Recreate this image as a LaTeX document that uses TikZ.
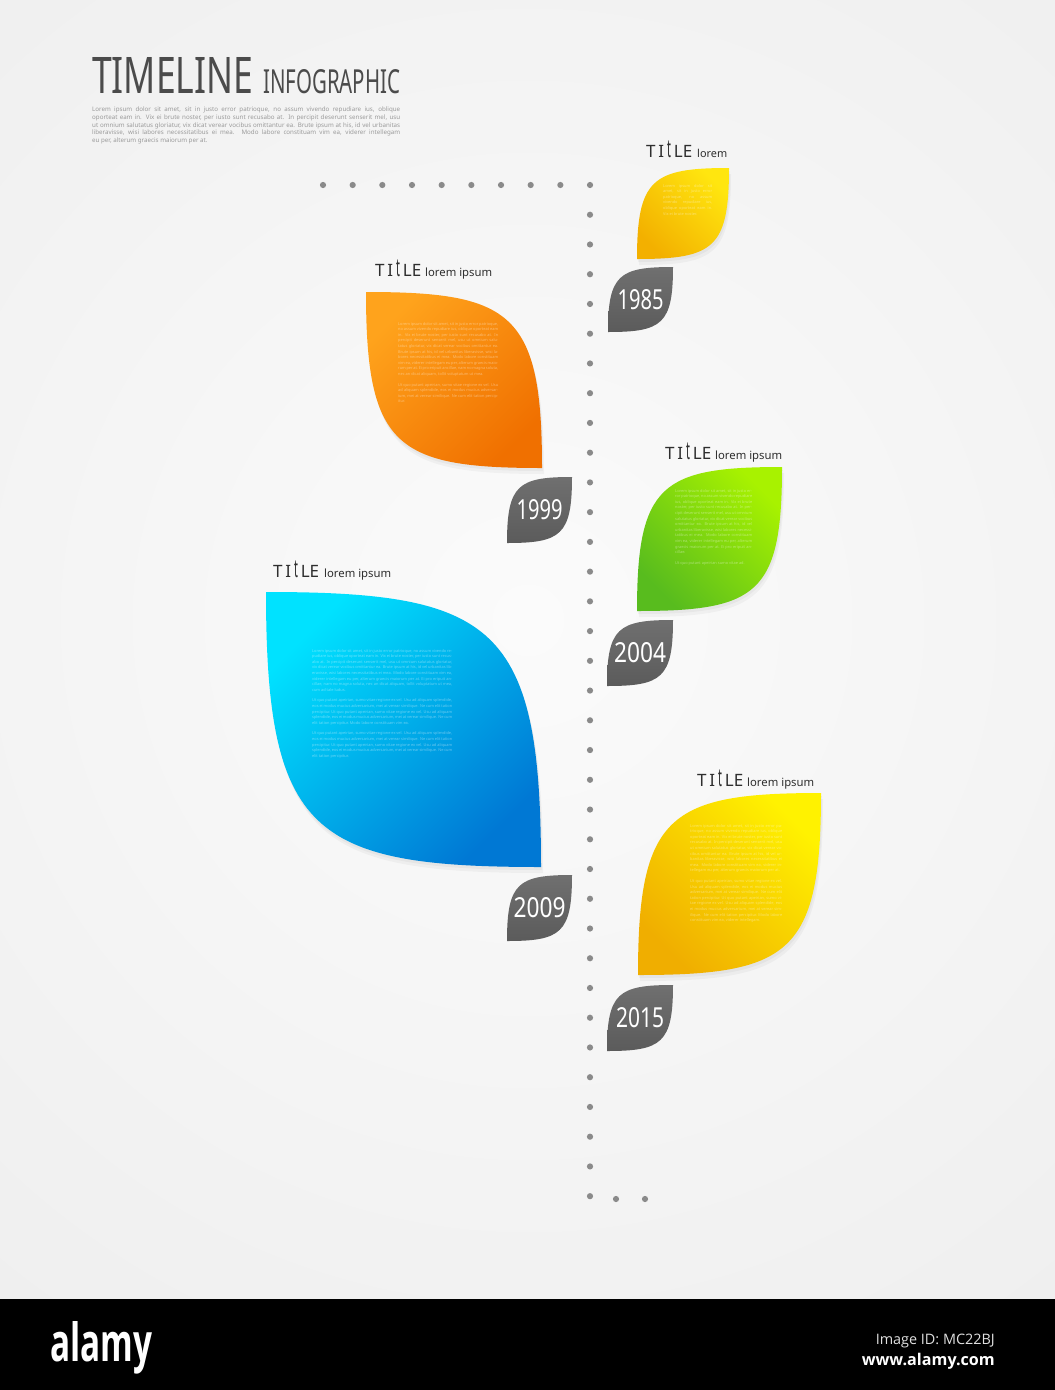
\documentclass[tikz,border=0pt]{standalone}
\usepackage{fontspec}
\usepackage{graphicx}
\setmainfont{Noto Sans}
\newfontfamily\barfont{Open Sans}
\setlength\parindent{0pt}
\definecolor{bgin}{HTML}{FBFBFB}
\definecolor{bgout}{HTML}{E2E2E2}
\definecolor{dotgray}{HTML}{8A8A8A}
\definecolor{headc}{HTML}{4B4B4B}
\definecolor{parac}{HTML}{9A9A9A}
\definecolor{ttlc}{HTML}{2E2E2E}
\definecolor{tagc}{HTML}{636363}
\definecolor{yelAt}{HTML}{FFE60F}
\definecolor{yelAb}{HTML}{F3B000}
\definecolor{oraT}{HTML}{FFA31C}
\definecolor{oraB}{HTML}{F07000}
\definecolor{greT}{HTML}{A8F200}
\definecolor{greB}{HTML}{58BC1E}
\definecolor{bluT}{HTML}{00E2FF}
\definecolor{bluB}{HTML}{0078D4}
\definecolor{yelBt}{HTML}{FFF200}
\definecolor{yelBb}{HTML}{F0AE00}
% leaf with sharp top-right and bottom-left corners
\newcommand\leafA[5][]{\path[#1] (#2,#5) .. controls (#2,{#5-0.88*(#5-#3)}) and ({#2+0.17*(#4-#2)},#3) .. (#4,#3) .. controls (#4,{#3+0.88*(#5-#3)}) and ({#4-0.17*(#4-#2)},#5) .. cycle;}
% leaf with sharp top-left and bottom-right corners
\newcommand\leafB[5][]{\path[#1] (#4,#5) .. controls (#4,{#5-0.88*(#5-#3)}) and ({#4-0.17*(#4-#2)},#3) .. (#2,#3) .. controls (#2,{#3+0.88*(#5-#3)}) and ({#2+0.17*(#4-#2)},#5) .. cycle;}
\newcommand\txtP{Lorem ipsum dolor sit amet, sit in justo error patrioque, no assum vivendo repudiare ius, oblique oporteat eam in. Vix ei brute noster, per iusto sunt recusabo at. In percipit deserunt senserit mel, usu ut omnium salutatus gloriatur, vix dicat verear vocibus omittantur ea. Brute ipsum at his, id vel urbanitas liberavisse, wisi labores necessitatibus ei mea. Modo labore constituam vim ea, viderer intellegam eu per, alterum graecis maiorum per at.}
\newcommand\txtQ{Ut quo putant apeirian, sumo vitae regione ex vel. Usu ad aliquam splendide, eos ei modus mucius adversarium, mei at verear similique. Ne cum elit tation percipitur.}
\newcommand\ttlword{T\,I\,\resizebox{4.6pt}{19.5pt}{t}\,LE}
\begin{document}
\begin{tikzpicture}[x=1pt,y=-1pt,
  lt/.style={text=white, text opacity=0.4, font=\fontsize{3.9}{5.6}\selectfont, align=justify, inner sep=0pt, anchor=north west},
  yr/.style={text=white, inner sep=0pt},
  ttl/.style={anchor=base west, inner sep=0pt, text=ttlc, font=\fontsize{20}{20}\selectfont},
  shadowleaf/.style={fill=black, opacity=0.035},
  tagleaf/.style={top color=tagc!92!white, bottom color=tagc!92!black}
  ]
\useasboundingbox (0,0) rectangle (1055,1390);
% background
\begin{scope}
\clip (0,0) rectangle (1055,1300);
\shade[inner color=bgin, outer color=bgout] (528,620) circle (1800pt);
\end{scope}
\fill[black] (0,1299) rectangle (1055,1390);

% heading
\node[anchor=base west, inner sep=0pt, text=headc] (head) at (92,93) {\resizebox{161pt}{36pt}{TIMELINE}};
\node[anchor=base west, inner sep=0pt, text=headc] (head2) at (263,93) {\resizebox{137pt}{24pt}{INFOGRAPHIC}};
\node[anchor=north west, inner sep=0pt, text=parac, align=left, font=\fontsize{6.2}{7.6}\selectfont] (intro) at (92,107) {%
\makebox[308pt][s]{Lorem ipsum dolor sit amet, sit in justo error patrioque, no assum vivendo repudiare ius, oblique}\\
\makebox[308pt][s]{oporteat eam in. Vix ei brute noster, per iusto sunt recusabo at. In percipit deserunt senserit mel, usu}\\
\makebox[308pt][s]{ut omnium salutatus gloriatur, vix dicat verear vocibus omittantur ea. Brute ipsum at his, id vel urbanitas}\\
\makebox[308pt][s]{liberavisse, wisi labores necessitatibus ei mea. Modo labore constituam vim ea, viderer intellegam}\\
eu per, alterum graecis maiorum per at.};

% dotted timeline
\foreach \i in {0,...,9} \fill[dotgray] ({323+\i*29.67},185) circle (3.1pt);
\foreach \i in {1,...,34} \fill[dotgray] (590,{185+\i*29.74}) circle (3.1pt);
\fill[dotgray] (616,1199) circle (3.1pt);
\fill[dotgray] (645,1199) circle (3.1pt);

% 1985
\leafA[shadowleaf, shift={(1,3)}]{637}{168}{729}{259}
\leafA[shadowleaf, shift={(2,6)}]{637}{168}{729}{259}
\leafA[top color=yelAt, bottom color=yelAb, shading angle=-45]{637}{168}{729}{259}
\leafA[tagleaf]{608}{267}{673}{332}
\node[lt, text width=49pt] (t1985) at (663,184) {Lorem ipsum dolor sit amet, sit in justo error patrioque, no assum vivendo repudiare ius, oblique oporteat eam in. Vix ei brute noster.};
\node[yr] (y1985) at (640.5,300) {\resizebox{46pt}{20pt}{1985}};
\node[ttl] (h1985) at (646,157) {\resizebox{46pt}{!}{\ttlword}};
\node[ttl] (l1985) at (697,157) {\resizebox{30pt}{!}{lorem}};

% 1999
\leafB[shadowleaf, shift={(1,3)}]{366}{292}{542}{468}
\leafB[shadowleaf, shift={(2,6)}]{366}{292}{542}{468}
\leafB[top color=oraT, bottom color=oraB, shading angle=45]{366}{292}{542}{468}
\leafA[tagleaf]{507}{477}{572}{543}
\node[lt, text width=100pt] (t1999) at (398,322) {\txtP\ Ei pro eripuit ancillae, nam no magna soluta, nec an dicat aliquam, tollit voluptatum ut mea.\par\vspace{5pt}\txtQ};
\node[yr] (y1999) at (539.5,510) {\resizebox{46pt}{20pt}{1999}};
\node[ttl] (h1999) at (375,276) {\resizebox{46pt}{!}{\ttlword}};
\node[ttl] (l1999) at (425,276) {\resizebox{67pt}{!}{lorem ipsum}};

% 2004
\leafA[shadowleaf, shift={(1,3)}]{637}{467}{782}{611}
\leafA[shadowleaf, shift={(2,6)}]{637}{467}{782}{611}
\leafA[top color=greT, bottom color=greB, shading angle=-45]{637}{467}{782}{611}
\leafA[tagleaf]{607}{620}{673}{686}
\node[lt, text width=77pt] (t2004) at (675,489) {\txtP\ Ei pro eripuit ancillae.\par\vspace{5pt}Ut quo putant apeirian sumo vitae ad.};
\node[yr] (y2004) at (640,653) {\resizebox{52pt}{20pt}{2004}};
\node[ttl] (h2004) at (665,459) {\resizebox{46pt}{!}{\ttlword}};
\node[ttl] (l2004) at (715,459) {\resizebox{67pt}{!}{lorem ipsum}};

% 2009
\leafB[shadowleaf, shift={(1,3)}]{266}{592}{541}{867}
\leafB[shadowleaf, shift={(2,6)}]{266}{592}{541}{867}
\leafB[top color=bluT, bottom color=bluB, shading angle=45]{266}{592}{541}{867}
\leafA[tagleaf]{507}{875}{572}{941}
\node[lt, text width=140pt] (t2009) at (312,649) {\txtP\ Ei pro eripuit ancillae, nam no magna soluta, nec an dicat aliquam, tollit voluptatum ut mea, cum ad tale ludus.\par\vspace{5pt}\txtQ\ \txtQ\ Modo labore constituam vim ea.\par\vspace{5pt}\txtQ\ \txtQ};
\node[yr] (y2009) at (539.5,908) {\resizebox{52pt}{20pt}{2009}};
\node[ttl] (h2009) at (273,577) {\resizebox{46pt}{!}{\ttlword}};
\node[ttl] (l2009) at (324,577) {\resizebox{67pt}{!}{lorem ipsum}};

% 2015
\leafA[shadowleaf, shift={(1,3)}]{638}{793}{821}{975}
\leafA[shadowleaf, shift={(2,6)}]{638}{793}{821}{975}
\leafA[top color=yelBt, bottom color=yelBb, shading angle=-45]{638}{793}{821}{975}
\leafA[tagleaf]{607}{985}{673}{1051}
\node[lt, text width=92pt] (t2015) at (690,824) {\txtP\par\vspace{5pt}\txtQ\ \txtQ\ Modo labore constituam vim ea, viderer intellegam.};
\node[yr] (y2015) at (640,1018) {\resizebox{48pt}{20pt}{2015}};
\node[ttl] (h2015) at (697,786) {\resizebox{46pt}{!}{\ttlword}};
\node[ttl] (l2015) at (747,786) {\resizebox{67pt}{!}{lorem ipsum}};

% bottom bar
\node[anchor=base west, inner sep=0pt, text=white, font=\barfont\bfseries] (logo) at (50,1361) {\resizebox{102pt}{40pt}{alamy}};
\node[anchor=base east, inner sep=0pt, text=white!88!black, font=\barfont] (imgid) at (995,1344) {\resizebox{119pt}{!}{Image ID: MC22BJ}};
\node[anchor=base east, inner sep=0pt, text=white, font=\barfont\bfseries] (www) at (995,1365) {\resizebox{133pt}{!}{www.alamy.com}};
\end{tikzpicture}
\end{document}
